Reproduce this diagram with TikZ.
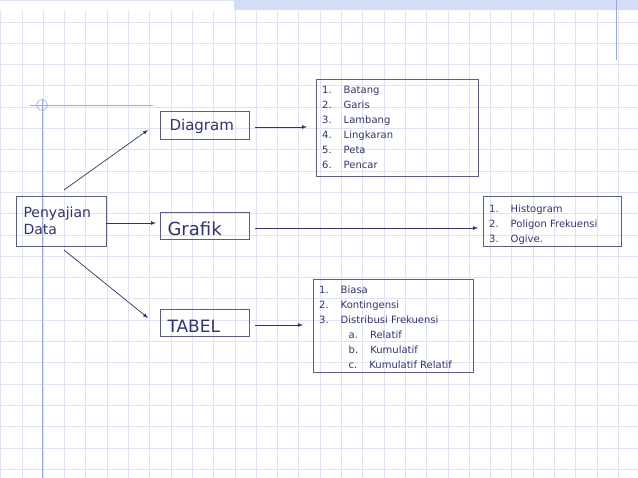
\documentclass[tikz,border=0pt]{standalone}
\usepackage{fontspec}
\setmainfont{DejaVu Sans}
\begin{document}
\begin{tikzpicture}[x=1pt,y=-1pt,
  txt/.style={text=navy},
  box/.style={draw=navy!80,line width=0.6pt,inner sep=0pt,anchor=north west},
  arr/.style={draw=navy,line width=0.7pt,-latex}]
\definecolor{navy}{HTML}{33336B}
\definecolor{gridc}{HTML}{DDE3F5}
\definecolor{bandc}{HTML}{D3DDF8}
\definecolor{decoc}{HTML}{9AA8E0}
\useasboundingbox (0,0) rectangle (638,478);
\fill[white] (0,0) rectangle (638,478);
\foreach \i in {0,...,30} \draw[gridc,line width=0.5pt] ({21.3*\i+0.5},10) -- ({21.3*\i+0.5},478);
\foreach \j in {0,...,22} \draw[gridc,line width=0.5pt] (0,{21.3*\j+0.5}) -- (638,{21.3*\j+0.5});
\fill[bandc] (234,0) rectangle (638,10);
\draw[decoc,line width=0.6pt] (616,0) -- (616,60);
\draw[decoc,line width=0.6pt] (30,105) -- (153,105) (42,99) -- (42,478);
\draw[decoc,line width=0.6pt] (42,105) circle (5.5);
% boxes
\node[box,minimum width=90,minimum height=50] (pd) at (16,196) {};
\node[txt,font=\fontsize{14}{17}\selectfont,align=left,anchor=west] at (20,221) {Penyajian\\Data};
\node[box,minimum width=89,minimum height=28] (dg) at (160,111) {};
\node[txt,font=\fontsize{15}{17}\selectfont,anchor=west] at (166,126) {Diagram};
\node[box,minimum width=89,minimum height=27] (gf) at (160,212) {};
\node[txt,font=\fontsize{18}{20}\selectfont,anchor=west] at (164,229) {Grafik};
\node[box,minimum width=89,minimum height=27] (tb) at (160,309) {};
\node[txt,font=\fontsize{17}{20}\selectfont,anchor=west] at (164,326) {TABEL};
\node[box,minimum width=162,minimum height=97] (l1) at (316,79) {};
\node[txt,font=\fontsize{10}{14.9}\selectfont,anchor=north west,inner sep=0pt] at (322,83) {\begin{tabular}{@{}l@{\hspace{12pt}}l@{}}1.&Batang\\2.&Garis\\3.&Lambang\\4.&Lingkaran\\5.&Peta\\6.&Pencar\end{tabular}};
\node[box,minimum width=138,minimum height=50] (l2) at (483,196) {};
\node[txt,font=\fontsize{10}{14.9}\selectfont,anchor=north west,inner sep=0pt] at (489,202) {\begin{tabular}{@{}l@{\hspace{12pt}}l@{}}1.&Histogram\\2.&Poligon Frekuensi\\3.&Ogive.\end{tabular}};
\node[box,minimum width=160,minimum height=93] (l3) at (313,279) {};
\node[txt,font=\fontsize{10}{14.9}\selectfont,anchor=north west,inner sep=0pt] at (319,283) {\begin{tabular}{@{}l@{\hspace{12pt}}l@{}}1.&Biasa\\2.&Kontingensi\\3.&Distribusi Frekuensi\\&\hspace{8pt}a.\hspace{12pt}Relatif\\&\hspace{8pt}b.\hspace{12pt}Kumulatif\\&\hspace{8pt}c.\hspace{12pt}Kumulatif Relatif\end{tabular}};
% connectors
\coordinate (a1) at (64,190); \coordinate (a1e) at (148,130);
\coordinate (a3) at (64,250); \coordinate (a3e) at (148,318);
\coordinate (b0) at (106,223); \coordinate (b1) at (156,223);
\coordinate (c0) at (255,127); \coordinate (c1) at (307,127);
\coordinate (d0) at (255,228); \coordinate (d1) at (478,228);
\coordinate (e0) at (255,325); \coordinate (e1) at (303,325);
\draw[arr] (a1) -- (a1e);
\draw[arr] (b0) -- (b1);
\draw[arr] (a3) -- (a3e);
\draw[arr] (c0) -- (c1);
\draw[arr] (d0) -- (d1);
\draw[arr] (e0) -- (e1);
\end{tikzpicture}
\end{document}
